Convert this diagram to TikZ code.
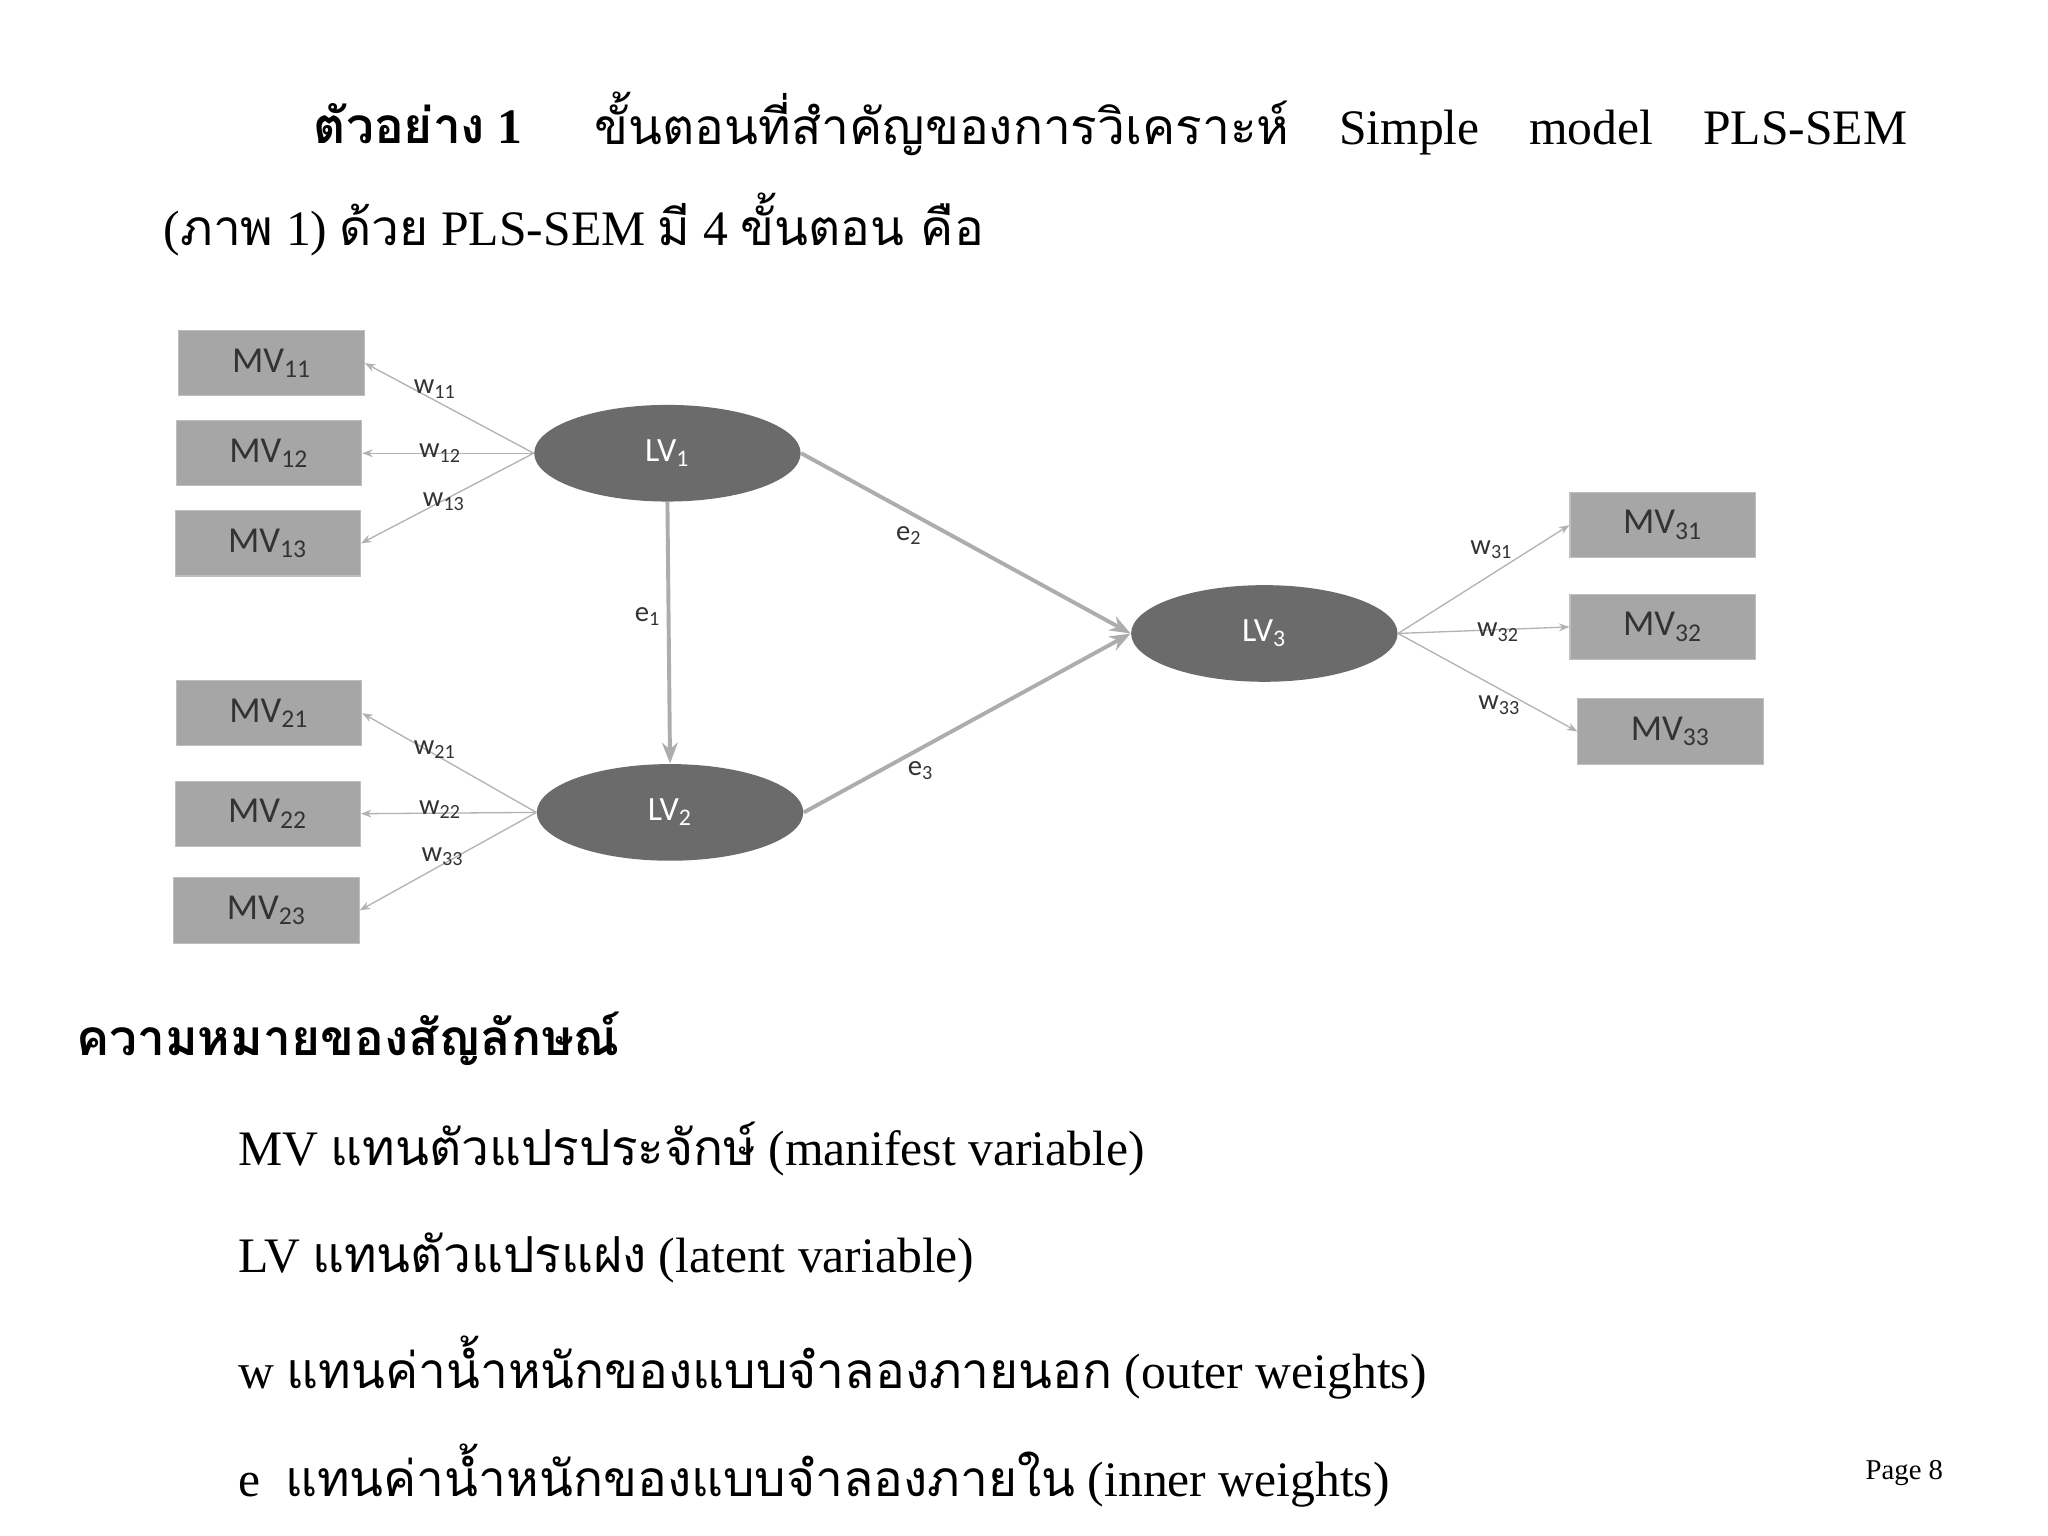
\documentclass[tikz,border=0pt]{standalone}
\usepackage{fontspec}
\setmainfont{Liberation Serif}
\newfontfamily\thaifont[Script=Thai]{Loma}
\newfontfamily\diagfont{Carlito}
\newcommand{\thx}[1]{{\thaifont #1}}
\usetikzlibrary{shapes.geometric,arrows.meta}
\begin{document}
\begin{tikzpicture}[x=0.5pt,y=-0.5pt,
  mv/.style={draw=black!25,fill=black!35,minimum width=71pt,minimum height=25pt,inner sep=0pt,font=\diagfont\fontsize{14}{16}\selectfont,text=black!80},
  lv/.style={ellipse,fill=black!58,minimum width=102pt,minimum height=37pt,inner sep=0pt,font=\diagfont\fontsize{13}{15}\selectfont,text=white},
  outer/.style={draw=black!30,line width=0.5pt,-{Stealth[length=4pt,width=3pt]}},
  inner/.style={draw=black!32,line width=1.5pt,-{Stealth[length=8pt,width=6pt]}},
  lab/.style={font=\diagfont\fontsize{11}{13}\selectfont,text=black!80,inner sep=0pt},
  body/.style={anchor=west,inner sep=0pt,font=\fontsize{19}{22}\selectfont}]
\useasboundingbox[fill=white] (0,0) rectangle (1568,1176);
% title
\node[anchor=west,inner sep=0pt,font=\fontsize{19}{22}\selectfont\bfseries] (t1) at (240,95) {\thx{\bfseries ตัวอย่าง} 1};
\node[anchor=west,inner sep=0pt,font=\fontsize{19}{22}\selectfont] (t2) at (455,95) {\thx{ขั้นตอนที่สำคัญของการวิเคราะห์}\quad Simple\quad model\quad PLS-SEM};
\node[body] (t3) at (125,172) {(\thx{ภาพ} 1) \thx{ด้วย} PLS-SEM \thx{มี} 4 \thx{ขั้นตอน คือ}};
% nodes
\node[mv] (m11) at (208,278) {MV\textsubscript{11}};
\node[mv] (m12) at (206,347) {MV\textsubscript{12}};
\node[mv] (m13) at (205,416) {MV\textsubscript{13}};
\node[mv] (m21) at (206,546) {MV\textsubscript{21}};
\node[mv] (m22) at (205,623) {MV\textsubscript{22}};
\node[mv] (m23) at (204,697) {MV\textsubscript{23}};
\node[mv] (m31) at (1273,402) {MV\textsubscript{31}};
\node[mv] (m32) at (1273,480) {MV\textsubscript{32}};
\node[mv] (m33) at (1279,560) {MV\textsubscript{33}};
\node[lv] (l1) at (511,347) {LV\textsubscript{1}};
\node[lv] (l2) at (513,622) {LV\textsubscript{2}};
\node[lv] (l3) at (968,485) {LV\textsubscript{3}};
% outer
\draw[outer] (l1.west) -- (m11.east);
\draw[outer] (l1.west) -- (m12.east);
\draw[outer] (l1.west) -- (m13.east);
\draw[outer] (l2.west) -- (m21.east);
\draw[outer] (l2.west) -- (m22.east);
\draw[outer] (l2.west) -- (m23.east);
\draw[outer] (l3.east) -- (m31.west);
\draw[outer] (l3.east) -- (m32.west);
\draw[outer] (l3.east) -- (m33.west);
% inner
\draw[inner] (l1.south) -- (l2.north);
\draw[inner] (l1.east) -- (l3.west);
\draw[inner] (l2.east) -- (l3.west);
% labels
\node[lab] (w11) at (333,298) {w\textsubscript{11}};
\node[lab] (w12) at (337,347) {w\textsubscript{12}};
\node[lab] (w13) at (340,384) {w\textsubscript{13}};
\node[lab] (w21) at (333,574) {w\textsubscript{21}};
\node[lab] (w22) at (337,620) {w\textsubscript{22}};
\node[lab] (w23) at (339,656) {w\textsubscript{33}};
\node[lab] (w31) at (1142,421) {w\textsubscript{31}};
\node[lab] (w32) at (1147,484) {w\textsubscript{32}};
\node[lab] (w33) at (1148,540) {w\textsubscript{33}};
\node[lab] (e1) at (496,472) {e\textsubscript{1}};
\node[lab] (e2) at (696,410) {e\textsubscript{2}};
\node[lab] (e3) at (705,590) {e\textsubscript{3}};
% bottom text
\node[body] (h) at (58,795) {\thx{\bfseries ความหมายของสัญลักษณ์}};
\node[body] (b1) at (182,880) {MV \thx{แทนตัวแปรประจักษ์} (manifest variable)};
\node[body] (b2) at (182,963) {LV \thx{แทนตัวแปรแฝง} (latent variable)};
\node[body] (b3) at (182,1047) {w \thx{แทนค่าน้ำหนักของแบบจำลองภายนอก} (outer weights)};
\node[body] (b4) at (182,1130) {e \ \thx{แทนค่าน้ำหนักของแบบจำลองภายใน} (inner weights)};
\node[anchor=west,inner sep=0pt,font=\fontsize{11}{13}\selectfont] (pg) at (1428,1128) {Page 8};
\end{tikzpicture}
\end{document}
